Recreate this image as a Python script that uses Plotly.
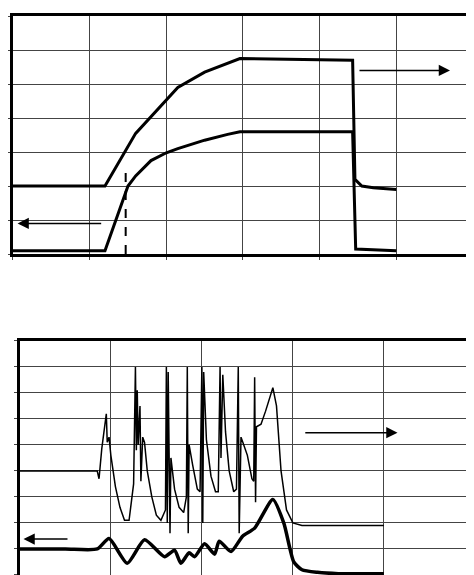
import plotly.graph_objects as go

# top panel
top_hi_x = [0, 1.2, 1.6, 2.15, 2.5, 2.96, 4.43, 4.46, 4.55, 4.7, 5.0]
top_hi_y = [2.0, 2.0, 3.55, 4.9, 5.35, 5.75, 5.7, 2.2, 2.0, 1.95, 1.9]
top_lo_x = [0, 1.2, 1.5, 1.6, 1.8, 2.0, 2.15, 2.5, 2.8, 2.96, 4.43, 4.47, 5.0]
top_lo_y = [0.1, 0.1, 2.0, 2.3, 2.75, 2.98, 3.1, 3.35, 3.52, 3.6, 3.6, 0.15, 0.1]
dash_x = [1.47, 1.47]
dash_y = [0.0, 2.6]

# bottom panel
bot_thin_x = [0,0.85,0.87,0.9,0.95,0.96,0.98,1.0,1.05,1.1,1.15,1.2,1.25,1.27,1.28,1.29,1.3,1.32,1.33,1.35,1.37,1.4,1.45,1.5,1.55,1.6,1.61,1.62,1.63,1.65,1.66,1.7,1.75,1.8,1.83,1.84,1.85,1.86,1.9,1.95,1.98,2.0,2.01,2.02,2.05,2.1,2.15,2.18,2.2,2.21,2.23,2.26,2.3,2.35,2.38,2.4,2.41,2.43,2.45,2.5,2.55,2.57,2.58,2.59,2.6,2.65,2.7,2.75,2.78,2.82,2.87,2.93,3.0,3.1,4.0]
bot_thin_y = [4.0,4.0,3.7,4.85,6.2,5.1,5.3,4.6,3.4,2.6,2.1,2.1,3.5,8.0,4.8,7.1,5.0,6.5,3.6,5.3,5.1,4.0,3.0,2.3,2.1,2.5,8.0,2.0,7.8,1.6,4.5,3.3,2.6,2.4,3.0,8.0,1.6,5.0,4.2,3.3,3.2,8.0,2.0,7.8,5.2,3.8,3.2,3.2,8.0,4.5,7.7,5.5,4.0,3.2,3.3,8.0,1.6,5.3,5.1,4.6,3.7,3.6,7.6,2.8,5.7,5.8,6.3,6.9,7.2,6.5,4.0,2.5,2.0,1.9,1.9]
bot_thick_x = [0,0.5,0.85,0.98,1.18,1.37,1.59,1.70,1.77,1.86,1.92,2.03,2.14,2.19,2.32,2.45,2.58,2.78,2.9,3.01,3.1,3.27,3.5,4.0]
bot_thick_y = [1.0,1.0,1.0,1.4,0.45,1.35,0.7,0.95,0.45,0.85,0.7,1.2,0.8,1.3,0.9,1.5,1.8,2.9,2.0,0.5,0.2,0.1,0.05,0.05]

fig = go.Figure()
fig.add_trace(go.Scatter(x=top_hi_x, y=top_hi_y, mode="lines", line=dict(color="black", width=3), xaxis="x", yaxis="y"))
fig.add_trace(go.Scatter(x=top_lo_x, y=top_lo_y, mode="lines", line=dict(color="black", width=3), xaxis="x", yaxis="y"))
fig.add_trace(go.Scatter(x=dash_x, y=dash_y, mode="lines", line=dict(color="black", width=2, dash="dash"), xaxis="x", yaxis="y"))
fig.add_trace(go.Scatter(x=bot_thin_x, y=bot_thin_y, mode="lines", line=dict(color="black", width=1.5), xaxis="x2", yaxis="y2"))
fig.add_trace(go.Scatter(x=bot_thick_x, y=bot_thick_y, mode="lines", line=dict(color="black", width=3.5, shape="spline", smoothing=0.6), xaxis="x2", yaxis="y2"))

ax = dict(showgrid=True, gridcolor="#444", gridwidth=1, zeroline=False, showline=True,
          linecolor="black", linewidth=3, mirror=True, showticklabels=False,
          ticks="outside", ticklen=3, tickcolor="#444", dtick=1)
fig.update_layout(
    width=474, height=575, margin=dict(l=0, r=0, t=0, b=0), showlegend=False,
    plot_bgcolor="white", paper_bgcolor="white",
    xaxis=dict(ax, domain=[0.0105, 0.981], range=[0, 6]),
    yaxis=dict(ax, domain=[0.572, 0.986], range=[0, 7]),
    xaxis2=dict(ax, domain=[0.025, 0.985], range=[0, 5], anchor="y2"),
    yaxis2=dict(ax, domain=[0.014, 0.421], range=[0, 9], anchor="x2"),
)
arrows = [("x", "y", 4.5, 5.4, 5.7, 5.4), ("x", "y", 1.17, 0.9, 0.06, 0.9),
          ("x2", "y2", 3.12, 5.47, 4.15, 5.47), ("x2", "y2", 0.54, 1.38, 0.04, 1.38)]
for xr, yr, x0, y0, x1, y1 in arrows:
    fig.add_annotation(x=x1, y=y1, ax=x0, ay=y0, xref=xr, yref=yr, axref=xr, ayref=yr,
                       showarrow=True, arrowhead=2, arrowsize=1.5, arrowwidth=1.5, arrowcolor="black", text="")
fig.write_html("out.html")
